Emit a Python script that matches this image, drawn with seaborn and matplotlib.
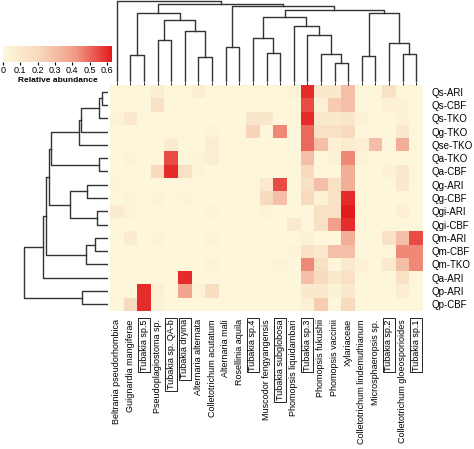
import numpy as np
import pandas as pd
import matplotlib
matplotlib.use("Agg")
import matplotlib.pyplot as plt
import seaborn as sns
from matplotlib.colors import LinearSegmentedColormap

sites = ["Qs-ARI", "Qs-CBF", "Qs-TKO", "Qg-TKO", "Qse-TKO", "Qa-TKO", "Qa-CBF",
         "Qg-ARI", "Qg-CBF", "Qgi-ARI", "Qgi-CBF", "Qm-ARI", "Qm-CBF", "Qm-TKO",
         "Qa-ARI", "Qp-ARI", "Qp-CBF"]
taxa = ["Beltrania pseudorhombica", "Guignardia mangiferae", "Tubakia sp.5",
        "Pseudoplagiostoma sp.", "Tubakia sp. QA-b", "Tubakia dryina",
        "Alternaria alternata", "Colletotrichum acutatum", "Alternaria mali",
        "Rosellinia aquila", "Tubakia sp.4", "Muscodor fengyangensis",
        "Tubakia subglobosa", "Phomopsis liquidambari", "Tubakia sp.3",
        "Phomopsis fukushii", "Phomopsis vaccinii", "Xylariaceae",
        "Colletotrichum lindemuthianum", "Microsphaeropsis sp.", "Tubakia sp.2",
        "Colletotrichum gloeosporioides", "Tubakia sp.1"]
boxed = {"Tubakia sp.5", "Tubakia sp. QA-b", "Tubakia dryina", "Tubakia sp.4",
         "Tubakia subglobosa", "Tubakia sp.3", "Tubakia sp.2", "Tubakia sp.1"}

# non-background cells per site: {taxon index: relative abundance}
cells = {
    "Qs-ARI": {3: 0.07, 6: 0.07, 13: 0.04, 14: 0.60, 15: 0.10, 16: 0.10, 17: 0.30, 20: 0.15},
    "Qs-CBF": {3: 0.15, 14: 0.55, 15: 0.05, 16: 0.25, 17: 0.30, 20: 0.05, 21: 0.05},
    "Qs-TKO": {0: 0.04, 1: 0.10, 10: 0.12, 11: 0.12, 14: 0.60, 15: 0.10, 16: 0.10, 17: 0.12, 18: 0.05, 21: 0.05},
    "Qg-TKO": {7: 0.04, 10: 0.22, 12: 0.45, 14: 0.50, 15: 0.15, 16: 0.15, 17: 0.20, 21: 0.10},
    "Qse-TKO": {4: 0.08, 7: 0.07, 14: 0.50, 15: 0.30, 16: 0.05, 17: 0.08, 18: 0.06, 19: 0.30, 21: 0.35},
    "Qa-TKO": {1: 0.04, 4: 0.55, 6: 0.04, 7: 0.07, 14: 0.30, 16: 0.05, 17: 0.45, 18: 0.03},
    "Qa-CBF": {3: 0.20, 4: 0.60, 5: 0.15, 6: 0.03, 14: 0.20, 17: 0.35, 20: 0.05, 21: 0.10},
    "Qg-ARI": {0: 0.03, 11: 0.10, 12: 0.55, 14: 0.15, 15: 0.30, 16: 0.15, 17: 0.35, 21: 0.10},
    "Qg-CBF": {1: 0.04, 3: 0.04, 5: 0.03, 11: 0.20, 12: 0.30, 14: 0.20, 15: 0.05, 16: 0.15, 17: 0.60},
    "Qgi-ARI": {0: 0.08, 1: 0.04, 7: 0.04, 11: 0.04, 15: 0.15, 16: 0.15, 17: 0.65, 21: 0.06},
    "Qgi-CBF": {13: 0.10, 15: 0.15, 16: 0.40, 17: 0.60},
    "Qm-ARI": {1: 0.08, 3: 0.04, 7: 0.04, 14: 0.05, 17: 0.35, 20: 0.15, 21: 0.30, 22: 0.55},
    "Qm-CBF": {13: 0.03, 14: 0.15, 15: 0.10, 16: 0.30, 17: 0.30, 21: 0.45, 22: 0.45},
    "Qm-TKO": {7: 0.04, 12: 0.05, 14: 0.45, 15: 0.15, 17: 0.10, 18: 0.05, 20: 0.10, 21: 0.30, 22: 0.45},
    "Qa-ARI": {5: 0.60, 14: 0.30, 15: 0.20, 16: 0.10, 17: 0.15, 21: 0.15},
    "Qp-ARI": {2: 0.60, 3: 0.06, 5: 0.38, 6: 0.04, 7: 0.18, 14: 0.10, 15: 0.10, 16: 0.05, 17: 0.10, 21: 0.07},
    "Qp-CBF": {1: 0.20, 2: 0.60, 3: 0.04, 14: 0.05, 15: 0.25, 17: 0.20},
}
background = 0.015

# dendrograms as nested [height, left, right], leaves are positions
row_tree = [250,
            [193,
             [185,
              [175,
               [168, [87, [80, [28, [18, 0, 1], 2], 3], 4], [27, 5, 6]],
               [113, [62, 7, 8], [32, 9, 10]]],
              [65, [40, 11, 12], 13]],
             14],
            [77, 15, 16]]
col_tree = [245, 0,
            [235,
             [207, [82, 1, 2], [187, [128, 3, 4], [155, 5, [75, 6, 7]]]],
             [230, [105, 8, 9],
              [217,
               [195, [133, 10, [88, 11, 12]],
                [170, 13, [142, 14, [85, 15, [57, 16, 17]]]]],
               [207, [78, 18, 19], [117, 20, [85, 21, 22]]]]]]]

data = pd.DataFrame(background, index=sites, columns=taxa)
for s, vals in cells.items():
    for j, v in vals.items():
        data.iloc[sites.index(s), j] = v

cmap = LinearSegmentedColormap.from_list(
    "abund", ["#fdf8dc", "#f8d8bd", "#f19a86", "#e31a1c"])

W, H = 474, 449
fig = plt.figure(figsize=(W / 100, H / 100), dpi=100)
plt.rcParams["font.family"] = ["Liberation Sans", "DejaVu Sans"]


def box(x0, y0, x1, y1):
    return [x0 / W, 1 - y1 / H, (x1 - x0) / W, (y1 - y0) / H]


ax = fig.add_axes(box(110, 85, 423, 311))
cax = fig.add_axes(box(3, 46, 112, 62))
sns.heatmap(data, cmap=cmap, vmin=0, vmax=0.63, ax=ax, cbar_ax=cax,
            xticklabels=True, yticklabels=True,
            cbar_kws={"orientation": "horizontal", "ticks": np.arange(0, 0.61, 0.1)})
ax.yaxis.tick_right()
ax.set_yticklabels(sites, rotation=0, fontsize=7)
ax.set_xticklabels(taxa, rotation=90, fontsize=6.5)
ax.tick_params(axis="y", length=0, pad=6)
ax.tick_params(axis="x", length=0, pad=4)
ax.set_xlabel("")
ax.set_ylabel("")
for lab in ax.get_xticklabels():
    if lab.get_text() in boxed:
        lab.set_bbox(dict(facecolor="none", edgecolor="black", linewidth=0.6, pad=1.2))
ax.tick_params(axis="x", top=True, length=2, width=0.6)
ax.tick_params(axis="x", bottom=False, labelbottom=True)

cax.set_xticklabels(["0", "0.1", "0.2", "0.3", "0.4", "0.5", "0.6"], fontsize=6.5)
cax.tick_params(length=2, pad=1)
cax.set_xlabel("Relative abundance", fontsize=6, fontweight="bold", labelpad=1)
for sp in cax.spines.values():
    sp.set_visible(False)


def draw_tree(tree, axd, vertical):
    def rec(node):
        if isinstance(node, int):
            return node + 0.5, 0
        h, left, right = node
        pl, hl = rec(left)
        pr, hr = rec(right)
        xs, ys = [pl, pl, pr, pr], [hl, h, h, hr]
        if vertical:
            axd.plot(xs, ys, color="#333333", lw=1)
        else:
            axd.plot(ys, xs, color="#333333", lw=1)
        return (pl + pr) / 2, h
    rec(tree)
    axd.axis("off")


axc = fig.add_axes(box(110, 0, 423, 82))
draw_tree(col_tree, axc, True)
axc.set_xlim(0, len(taxa))
axc.set_ylim(0, 247)

axr = fig.add_axes(box(23, 85, 108, 311))
draw_tree(row_tree, axr, False)
axr.set_ylim(len(sites), 0)
axr.set_xlim(252, 0)

fig.savefig("out.png", dpi=100)
